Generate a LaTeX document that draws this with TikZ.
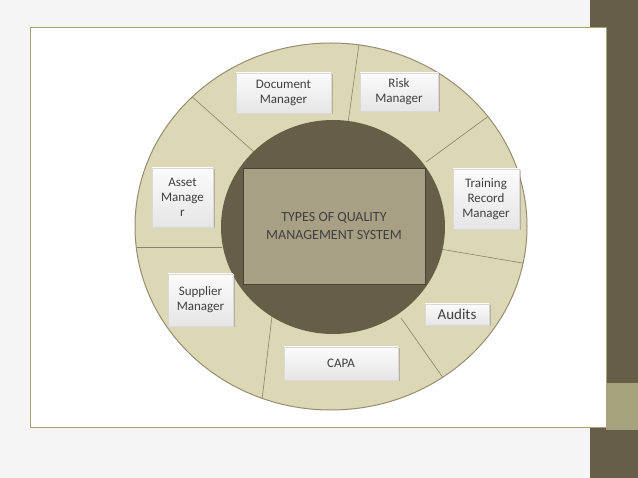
\documentclass[tikz,border=0pt]{standalone}
\usepackage{fontspec}
\setmainfont{Carlito}
\usetikzlibrary{shadows}
\definecolor{dk}{HTML}{675E47}
\definecolor{ring}{HTML}{DCD7B4}
\definecolor{ctr}{HTML}{A8A084}
\definecolor{patch}{HTML}{A6A27C}
\definecolor{txt}{HTML}{404040}
\tikzset{
  lbl/.style={draw=white!70!gray, line width=0.4pt, top color=white!97!gray, bottom color=white!80!gray,
    drop shadow={shadow xshift=1.5pt, shadow yshift=-1.5pt, opacity=0.45}, text=txt, font=\fontsize{13}{15}\selectfont, align=center, inner sep=0pt},
  div/.style={draw=dk!70!ring, line width=0.6pt}
}
\begin{document}
\begin{tikzpicture}[x=1pt,y=-1pt]
\useasboundingbox (0,0) rectangle (638,478);
\fill[gray!8] (0,0) rectangle (638,478);
\fill[dk] (590,0) rectangle (638,478);
\fill[patch] (606,383) rectangle (638,430);
\draw[patch, line width=1pt, fill=white] (30,28) rectangle (606,428);
\fill[ring] (331,226.5) ellipse [x radius=196, y radius=183.5];
\coordinate (a1) at (180,86); \coordinate (b1) at (254,152);
\coordinate (a2) at (361,30); \coordinate (b2) at (348,123);
\coordinate (a3) at (505,104); \coordinate (b3) at (426,162);
\coordinate (a4) at (540,266); \coordinate (b4) at (440,249);
\coordinate (a5) at (460,402); \coordinate (b5) at (401,318);
\coordinate (a6) at (259,425); \coordinate (b6) at (272,316);
\coordinate (a7) at (120,247); \coordinate (b7) at (222,247);
\begin{scope}
\clip (331,226.5) ellipse [x radius=196, y radius=183.5];
\foreach \i in {1,...,7} \draw[div] (a\i) -- (b\i);
\end{scope}
\draw[dk!60!ring, line width=1pt] (331,226.5) ellipse [x radius=196, y radius=183.5];
\fill[dk] (333,227) ellipse [x radius=112, y radius=107];
\node[fill=ctr, draw=dk!70!black, line width=0.4pt, minimum width=182, minimum height=116, align=center, text=txt, font=\fontsize{14}{18}\selectfont] (c) at (334,226) {TYPES OF QUALITY\\MANAGEMENT SYSTEM};
\node[lbl, minimum width=95, minimum height=40] (doc) at (283.5,93) {Document\\Manager};
\node[lbl, minimum width=78, minimum height=38] (risk) at (399,92) {Risk\\Manager};
\node[lbl, minimum width=66, minimum height=60] (train) at (486,199) {Training\\Record\\Manager};
\node[lbl, minimum width=61, minimum height=59] (asset) at (182.5,197.5) {Asset\\Manage\\r};
\node[lbl, minimum width=65, minimum height=52] (sup) at (200.5,300) {Supplier\\Manager};
\node[lbl, minimum width=64, minimum height=21, font=\fontsize{15}{17}\selectfont] (aud) at (457,314.5) {Audits};
\node[lbl, minimum width=114, minimum height=33] (capa) at (341,363.5) {CAPA};
\end{tikzpicture}
\end{document}
